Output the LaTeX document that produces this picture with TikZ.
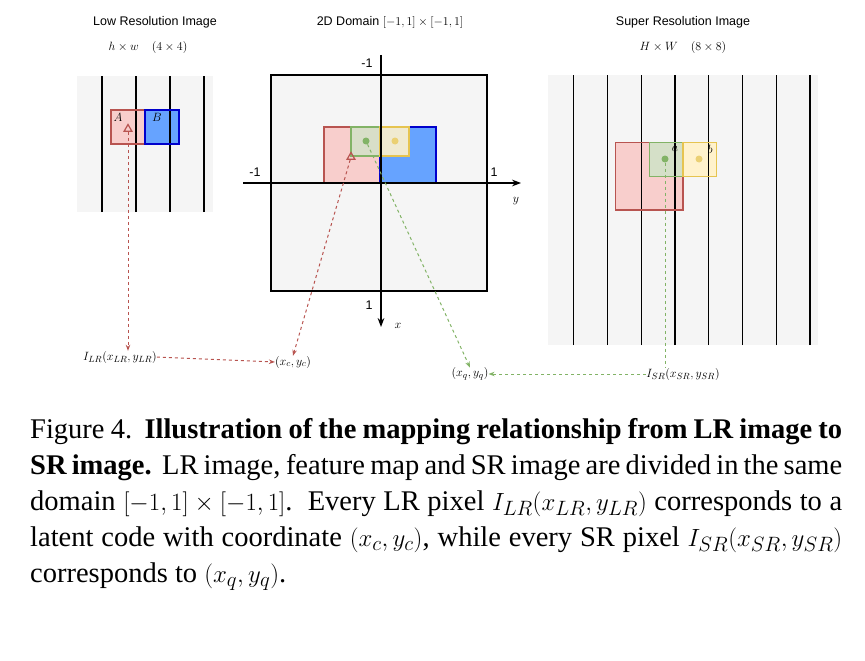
\documentclass[tikz,border=0pt]{standalone}
\usepackage{fontspec}
\setmainfont{Liberation Serif}
\setsansfont{Liberation Sans}
\usetikzlibrary{arrows.meta,shapes.geometric}
\definecolor{cellgray}{RGB}{245,245,245}
\definecolor{redfill}{RGB}{248,206,204}
\definecolor{redline}{RGB}{184,84,80}
\definecolor{bluefill}{RGB}{102,163,255}
\definecolor{blueline}{RGB}{0,0,204}
\definecolor{greenfill}{RGB}{213,224,200}
\definecolor{greenline}{RGB}{130,179,102}
\definecolor{yelfill}{RGB}{255,242,204}
\definecolor{yelline}{RGB}{230,196,80}
\tikzset{
  lbl/.style={font=\sffamily\fontsize{12.5}{14}\selectfont, inner sep=0},
  mlbl/.style={font=\fontsize{13}{15}\selectfont, inner sep=0},
  gridline/.style={line width=1.4pt, black},
  reddash/.style={dashed, redline, line width=1pt, -{Stealth[length=6pt]}},
  greendash/.style={dashed, greenline, line width=1pt, -{Stealth[length=6pt]}},
  tri/.style={draw=redline, line width=1.2pt, regular polygon, regular polygon sides=3, inner sep=0, minimum size=9pt},
}
\begin{document}
\begin{tikzpicture}[x=1pt,y=-1pt]
\useasboundingbox (0,0) rectangle (865,661);
% titles
\node[lbl] (t1) at (155,22) {Low Resolution Image};
\node[mlbl] (t1b) at (148,48) {$h\times w\quad(4\times4)$};
\node[lbl] (t2) at (390,22) {2D Domain $[-1,1]\times[-1,1]$};
\node[lbl] (t3) at (683,22) {Super Resolution Image};
\node[mlbl] (t3b) at (683,48) {$H\times W\quad(8\times8)$};
% left grid
\fill[cellgray] (77,76) rectangle (213,212);
\fill[redfill] (111,110) rectangle (145,144);
\fill[bluefill] (145,110) rectangle (179,144);
\draw[gridline] (77,76) grid[step=34] (213,212);
\draw[redline, line width=1.2pt] (111,110) rectangle (145,144);
\draw[blueline, line width=1.4pt] (145,110) rectangle (179,144);
\node[mlbl] (A) at (118,117) {$A$};
\node[mlbl] (B) at (157,117) {$B$};
\node[tri] (triL) at (128,129) {};
% middle
\fill[cellgray] (271,75) rectangle (487,291);
\draw[line width=1.3pt] (271,75) rectangle (487,291);
\fill[redfill] (324,127) rectangle (380,183);
\draw[redline, line width=1.2pt] (324,127) rectangle (380,183);
\fill[bluefill] (380,127) rectangle (436,183);
\draw[blueline, line width=1.4pt] (380,127) rectangle (436,183);
\fill[greenfill, opacity=0.9] (351,127) rectangle (380,156);
\draw[greenline, line width=1.2pt] (351,127) rectangle (380,156);
\fill[yelfill, opacity=0.9] (380,127) rectangle (409,156);
\draw[yelline, line width=1.2pt] (380,127) rectangle (409,156);
\draw[line width=1.3pt, -{Stealth[length=9pt]}] (243,183) -- (521,183);
\draw[line width=1.3pt, -{Stealth[length=9pt]}] (381,55) -- (381,327);
\node[lbl] (m1) at (367,63) {-1};
\node[lbl] (m2) at (255,172) {-1};
\node[lbl] (m3) at (494,172) {1};
\node[lbl] (m4) at (369,305) {1};
\node[mlbl] (ylab) at (516,201) {$y$};
\node[mlbl] (xlab) at (398,326) {$x$};
\node[circle, fill=greenline, inner sep=0, minimum size=7pt] (gdot) at (366,141) {};
\node[circle, fill=yelline!80, inner sep=0, minimum size=7pt] (ydot) at (395,141) {};
\node[tri] (triM) at (351,157) {};
% right grid
\fill[cellgray] (548,75) rectangle (818,345);
\fill[redfill] (615.5,142.5) rectangle (683,210);
\fill[greenfill] (649.25,142.5) rectangle (683,176.25);
\fill[yelfill] (683,142.5) rectangle (716.75,176.25);
\draw[gridline] (548,75) grid[step=33.75] (818,345);
\draw[redline, line width=1.2pt] (615.5,142.5) rectangle (683,210);
\draw[greenline, line width=1.2pt] (649.25,142.5) rectangle (683,176.25);
\draw[yelline, line width=1.2pt] (683,142.5) rectangle (716.75,176.25);
\node[mlbl] (a) at (675,149) {$a$};
\node[mlbl] (b) at (710,149) {$b$};
\node[circle, fill=greenline, inner sep=0, minimum size=7pt] (gdotR) at (665,159) {};
\node[circle, fill=yelline!80, inner sep=0, minimum size=7pt] (ydotR) at (699,159) {};
% bottom labels
\node[mlbl] (ILR) at (120,357) {$I_{LR}(x_{LR},y_{LR})$};
\node[mlbl] (xc) at (293,362) {$(x_c,y_c)$};
\node[mlbl] (xq) at (470,374) {$(x_q,y_q)$};
\node[mlbl] (ISR) at (683,374) {$I_{SR}(x_{SR},y_{SR})$};
% connectors
\draw[reddash] (triL) -- (triL |- ILR.north);
\draw[reddash] (ILR.east) -- (xc.west);
\draw[reddash] (triM) -- (xc.north);
\draw[greendash] (gdot) -- (xq.north);
\draw[greenline, dashed, line width=1pt] (gdotR) -- (gdotR |- ISR.north);
\draw[greendash] (ISR.west) -- (xq.east);
% caption
\node[anchor=north west, text width=812pt, align=justify, inner sep=0, font=\fontsize{28.5}{36}\selectfont] (cap) at (30,418)
{Figure 4.\ \ \textbf{Illustration of the mapping relationship from LR image to SR image.}\ \ LR image, feature map and SR image are divided in the same domain $[-1,1]\times[-1,1]$.\ \ Every LR pixel $I_{LR}(x_{LR},y_{LR})$ corresponds to a latent code with coordinate $(x_c,y_c)$, while every SR pixel $I_{SR}(x_{SR},y_{SR})$ corresponds to $(x_q,y_q)$.};
\end{tikzpicture}
\end{document}
